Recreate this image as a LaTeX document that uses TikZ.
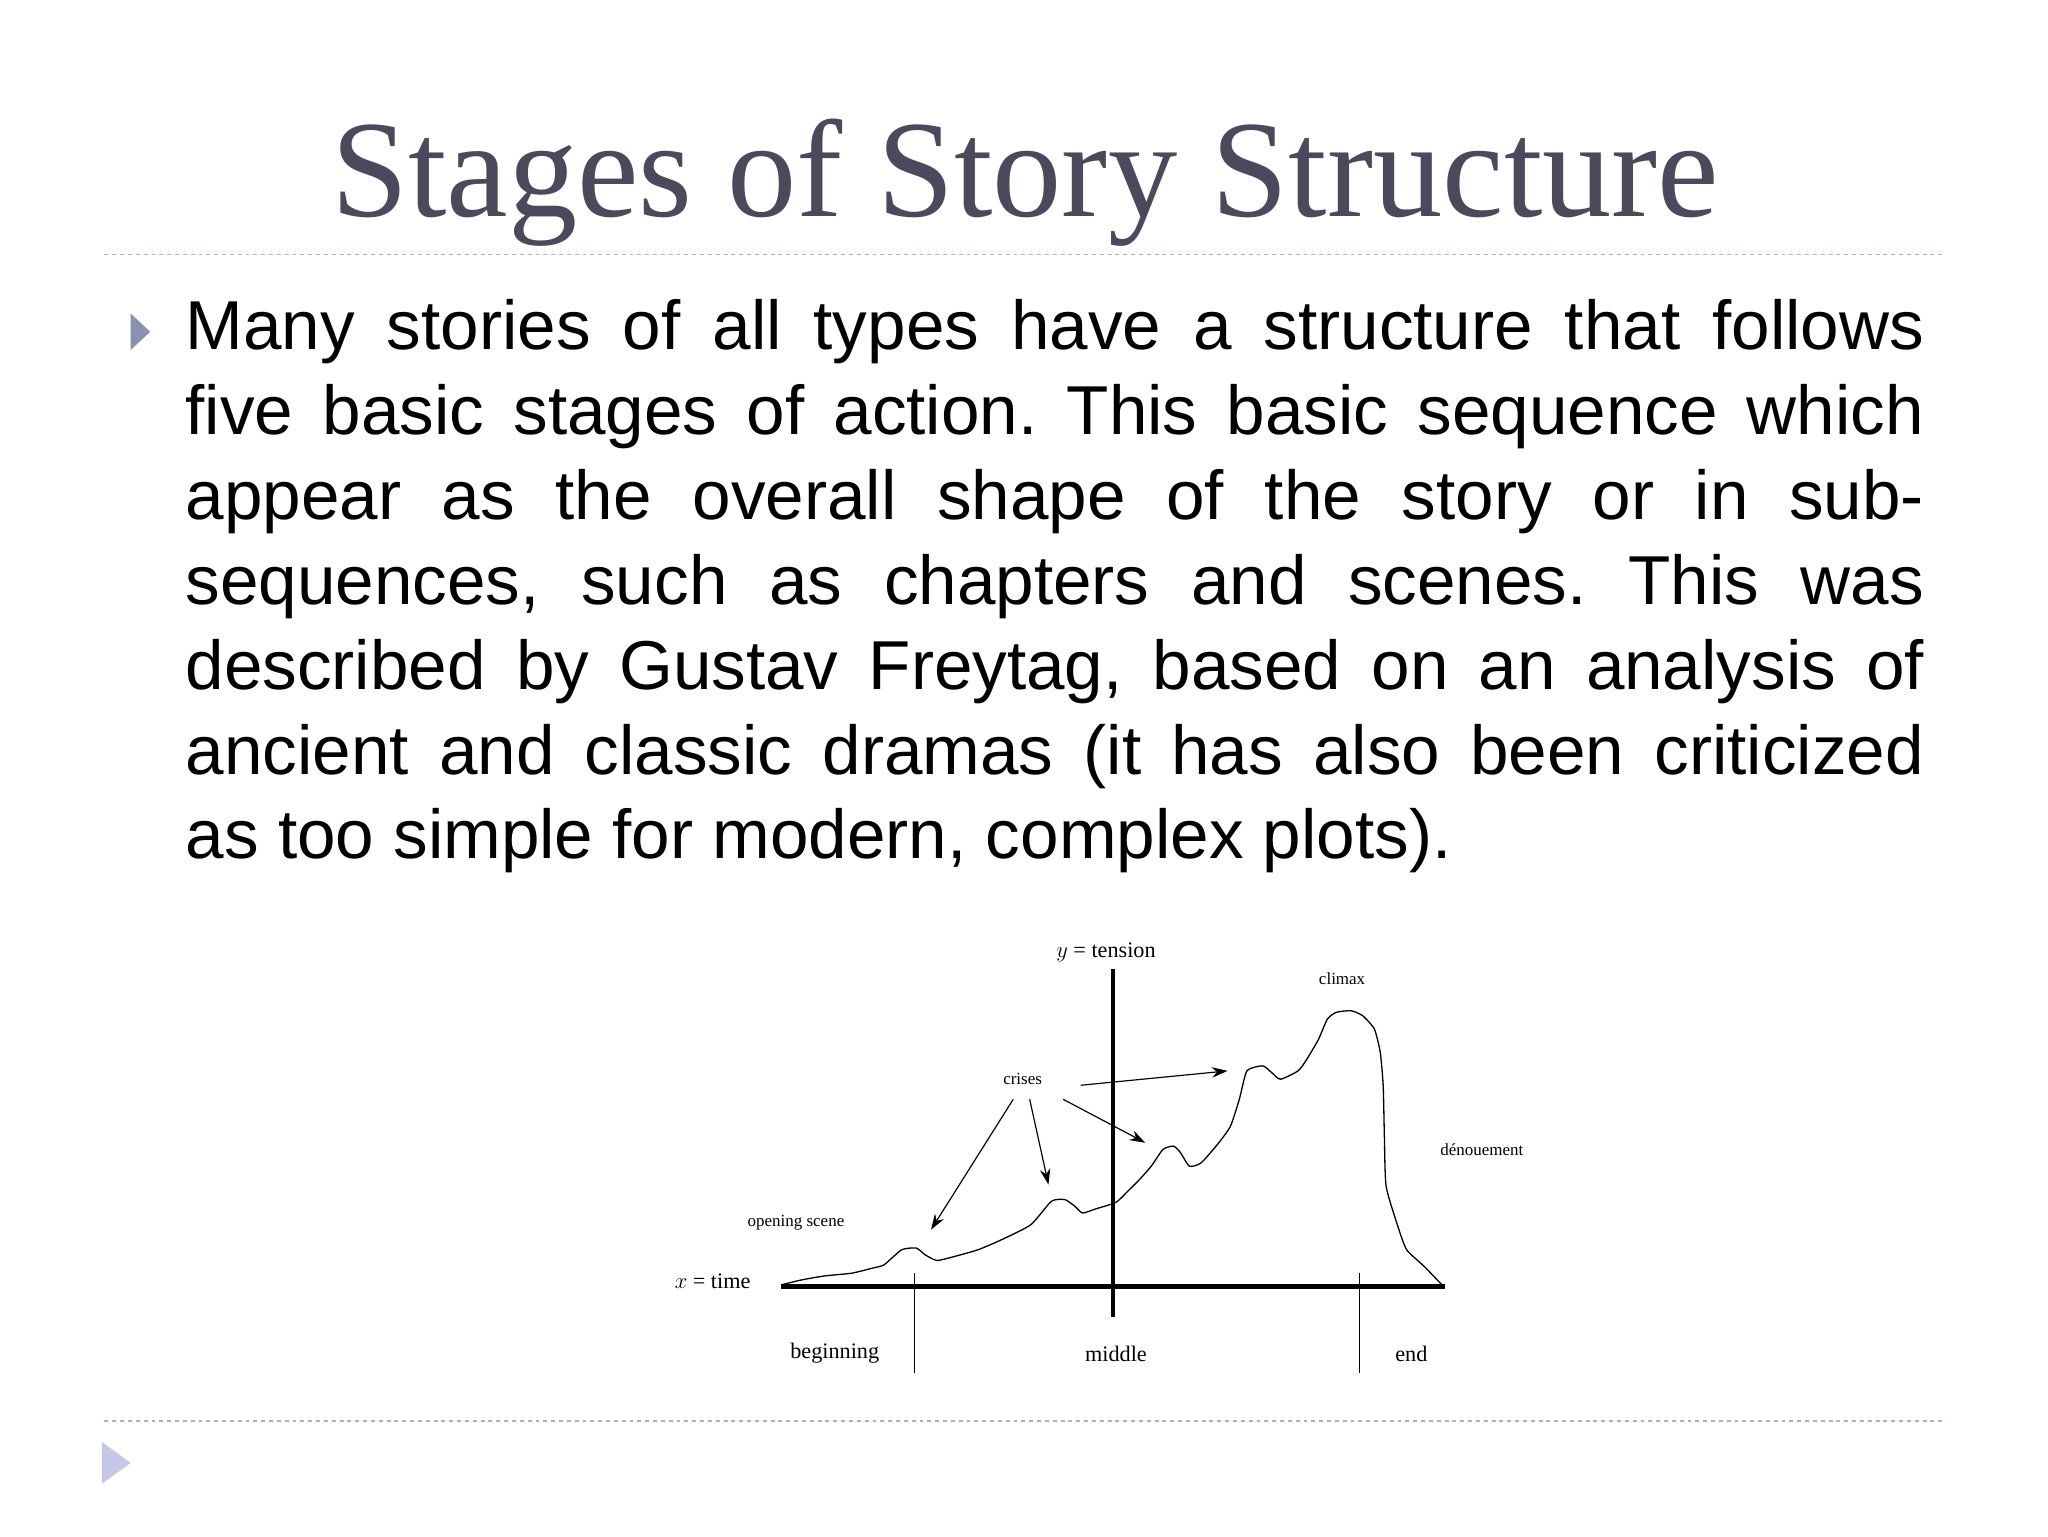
\documentclass[tikz,border=0pt]{standalone}
\usepackage{fontspec}
\setmainfont{Liberation Serif}
\newfontfamily\bodyfont{Liberation Sans}
\usetikzlibrary{arrows.meta}
\definecolor{titlec}{HTML}{4A4A5C}
\definecolor{dashc}{HTML}{A8B4C4}
\definecolor{bulc}{HTML}{8A90B0}
\tikzset{lbl/.style={font=\rmfamily\fontsize{13}{15}\selectfont,inner sep=0pt},
  biglbl/.style={font=\rmfamily\fontsize{17}{19}\selectfont,inner sep=0pt},
  crisarrow/.style={-{Stealth[length=12pt,width=8pt]},line width=0.9pt}}
\begin{document}
\begin{tikzpicture}[x=1pt,y=-1pt]
\useasboundingbox[fill=white] (0,0) rectangle (1568,1176);
\node[font=\fontsize{106}{110}\selectfont,text=titlec,anchor=base] (title) at (785,166) {Stages of Story Structure};
\draw[dashc,dashed,line width=1pt] (80,195) -- (1490,195);
\draw[dashc,dashed,line width=1pt] (80,1088) -- (1490,1088);
\fill[bulc] (100,240) -- (115,254) -- (100,268) -- cycle;
\fill[bulc!80!blue!40!white] (78,1104) -- (100,1120) -- (78,1136) -- cycle;
\node[anchor=north west,inner sep=0pt,text width=1331pt,align=justify,font=\bodyfont\fontsize{53}{65}\selectfont\frenchspacing] (body) at (142,229)
{Many stories of all types have a structure that follows\linebreak
five basic stages of action. This basic sequence which\linebreak
appear as the overall shape of the story or in sub-\linebreak
sequences, such as chapters and scenes. This was\linebreak
described by Gustav Freytag, based on an analysis of\linebreak
ancient and classic dramas (it has also been criticized\linebreak
as too simple for modern, complex plots).};
\begin{scope}[shift={(497,703.4)},x=0.4496pt,y=-0.256pt]
\draw[line width=3.5pt] (225,1100) coordinate (xa) -- (1355,1100) coordinate (xb);
\draw[line width=3pt] (790,150) coordinate (ya) -- (790,1190) coordinate (yb);
\draw[line width=0.8pt] (452,1058) coordinate (t1a) -- (452,1360) coordinate (t1b);
\draw[line width=0.8pt] (1210,1058) coordinate (t2a) -- (1210,1360) coordinate (t2b);
\draw[line width=1pt,line join=round] plot[smooth,tension=0.35] coordinates{
(225,1095)(260,1080)(300,1068)(345,1060)(380,1045)(400,1035)(430,990)(455,985)(470,1005)(490,1022)(520,1010)(560,990)(600,960)(650,915)(685,845)(708,840)(725,860)(738,880)(760,868)(795,848)(815,815)(835,780)(855,740)(875,690)(893,680)(905,700)(920,740)(940,730)(970,670)(990,620)(1005,540)(1018,455)(1045,440)(1060,460)(1075,480)(1105,455)(1120,420)(1140,360)(1155,300)(1170,280)(1195,275)(1215,290)(1235,330)(1245,400)(1250,500)(1252,650)(1255,800)(1275,920)(1290,990)(1320,1040)(1350,1095)};
\node[lbl] (crises) at (636,480) {crises};
\coordinate (c1) at (480,930);
\coordinate (c2) at (680,795);
\coordinate (c3) at (845,670);
\coordinate (c4) at (985,455);
\draw[crisarrow] (620,540) -- (c1);
\draw[crisarrow] (648,540) -- (c2);
\draw[crisarrow] (705,540) -- (c3);
\draw[crisarrow] (735,498) -- (c4);
\node[biglbl] (ylab) at (778,100) {$y$ = tension};
\node[lbl] (climax) at (1180,178) {climax};
\node[lbl] (denou) at (1418,690) {dénouement};
\node[lbl] (open) at (250,908) {opening scene};
\node[biglbl] (xlab) at (108,1085) {$x$ = time};
\node[biglbl] (beg) at (316,1300) {beginning};
\node[biglbl] (mid) at (795,1300) {middle};
\node[biglbl] (end) at (1298,1300) {end};
\end{scope}
\end{tikzpicture}
\end{document}
